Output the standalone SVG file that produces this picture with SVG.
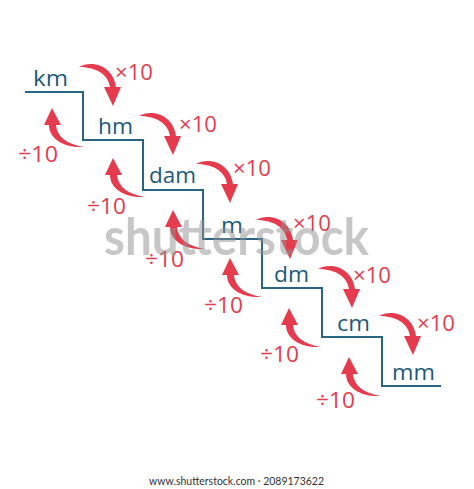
<svg xmlns="http://www.w3.org/2000/svg" width="474" height="489" viewBox="0 0 474 489">
<defs>
<style>
.unit{font-family:"Open Sans","DejaVu Sans",sans-serif;font-size:21px;fill:#1d5a7a;}
.num{font-family:"Open Sans","DejaVu Sans",sans-serif;font-size:21px;fill:#e43c4e;}
.arr{fill:#e43c4e;}
.stair{fill:none;stroke:#2a6483;stroke-width:2;}
.wm{font-family:"Lato","Liberation Sans",sans-serif;font-weight:bold;font-size:51px;fill:#8f8f8f;fill-opacity:0.5;}
.foot{font-family:"Lato","Liberation Sans",sans-serif;font-size:12px;fill:#333333;}
</style>
<path id="down" d="M -34,-39 C -22,-46 0,-41 3,-19 L 8,-19 L 0,0 L -9,-19 L -3,-19 C -5,-33 -19,-39 -34,-39 Z"/>
<path id="up" d="M -8,17 L 0,0 L 9,17 L 4,17 C 5,29 15,36 32,39 C 12,40 -3,31 -3,17 Z"/>
</defs>
<rect width="474" height="489" fill="#ffffff"/>
<g id="connectors">
<polyline class="stair" points="25,92 83,92 83,140 143,140 143,190 203,190 203,239 262,239 262,288 322,288 322,337 382,337 382,386 441,386"/>
<g class="arr">
<use href="#down" x="113" y="106"/>
<use href="#down" x="173" y="155"/>
<use href="#down" x="230" y="203"/>
<use href="#down" x="290" y="259"/>
<use href="#down" x="352" y="308"/>
<use href="#down" x="413" y="355"/>
<use href="#up" x="52" y="108"/>
<use href="#up" x="113" y="158"/>
<use href="#up" x="173" y="210"/>
<use href="#up" x="230" y="258"/>
<use href="#up" x="289" y="308"/>
<use href="#up" x="349" y="357"/>
</g>
<g>
<text class="num" x="115" y="80" textLength="38" lengthAdjust="spacingAndGlyphs">×10</text>
<text class="num" x="179" y="132" textLength="38" lengthAdjust="spacingAndGlyphs">×10</text>
<text class="num" x="233" y="176" textLength="38" lengthAdjust="spacingAndGlyphs">×10</text>
<text class="num" x="293" y="231" textLength="38" lengthAdjust="spacingAndGlyphs">×10</text>
<text class="num" x="353" y="283" textLength="38" lengthAdjust="spacingAndGlyphs">×10</text>
<text class="num" x="417" y="331" textLength="38" lengthAdjust="spacingAndGlyphs">×10</text>
<text class="num" x="18" y="162" textLength="40" lengthAdjust="spacingAndGlyphs">÷10</text>
<text class="num" x="87" y="214" textLength="39" lengthAdjust="spacingAndGlyphs">÷10</text>
<text class="num" x="145" y="267" textLength="39" lengthAdjust="spacingAndGlyphs">÷10</text>
<text class="num" x="204" y="313" textLength="39" lengthAdjust="spacingAndGlyphs">÷10</text>
<text class="num" x="260" y="362" textLength="39" lengthAdjust="spacingAndGlyphs">÷10</text>
<text class="num" x="316" y="408" textLength="39" lengthAdjust="spacingAndGlyphs">÷10</text>
</g>
</g>
<g id="km"><text class="unit" x="33" y="86" textLength="35" lengthAdjust="spacingAndGlyphs">km</text></g>
<g id="hm"><text class="unit" x="98" y="134" textLength="35" lengthAdjust="spacingAndGlyphs">hm</text></g>
<g id="dam"><text class="unit" x="149" y="183" textLength="47" lengthAdjust="spacingAndGlyphs">dam</text></g>
<g id="m"><text class="unit" x="221" y="233" textLength="22" lengthAdjust="spacingAndGlyphs">m</text></g>
<g id="dm"><text class="unit" x="274" y="282" textLength="35" lengthAdjust="spacingAndGlyphs">dm</text></g>
<g id="cm"><text class="unit" x="337" y="331" textLength="33" lengthAdjust="spacingAndGlyphs">cm</text></g>
<g id="mm"><text class="unit" x="392" y="380" textLength="43" lengthAdjust="spacingAndGlyphs">mm</text></g>
<text class="wm" x="104" y="255" textLength="265" lengthAdjust="spacingAndGlyphs">shutterstock</text>
<text class="foot" x="149" y="485" textLength="175" lengthAdjust="spacingAndGlyphs">www.shutterstock.com · 2089173622</text>
</svg>
